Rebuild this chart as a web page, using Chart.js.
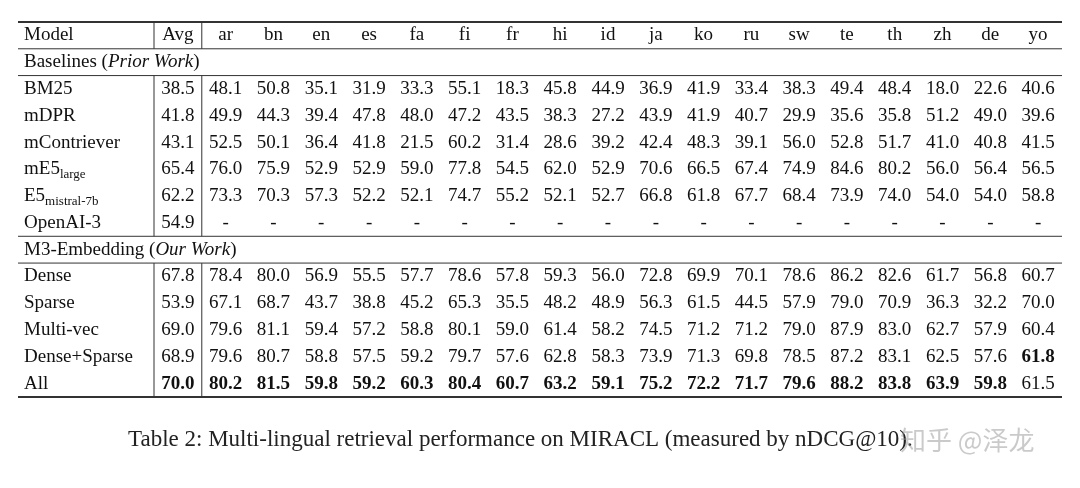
<!DOCTYPE html>
<html>
<head>
<meta charset="utf-8">
<script src="https://cdn.jsdelivr.net/npm/chart.js@4/dist/chart.umd.min.js"></script>
<style>
  html, body { margin: 0; padding: 0; background: #fff; }
  #wrap { width: 1080px; height: 488px; }
</style>
</head>
<body>
<div id="wrap"><canvas id="tbl"></canvas></div>
<script>
const columns = ['Avg', 'ar', 'bn', 'en', 'es', 'fa', 'fi', 'fr', 'hi', 'id', 'ja', 'ko', 'ru', 'sw', 'te', 'th', 'zh', 'de', 'yo'];

// [name, subscript]
const baselineModels = [['BM25', ''], ['mDPR', ''], ['mContriever', ''], ['mE5', 'large'], ['E5', 'mistral-7b'], ['OpenAI-3', '']];
const baselineValues = [
    [38.5, 48.1, 50.8, 35.1, 31.9, 33.3, 55.1, 18.3, 45.8, 44.9, 36.9, 41.9, 33.4, 38.3, 49.4, 48.4, 18.0, 22.6, 40.6],
    [41.8, 49.9, 44.3, 39.4, 47.8, 48.0, 47.2, 43.5, 38.3, 27.2, 43.9, 41.9, 40.7, 29.9, 35.6, 35.8, 51.2, 49.0, 39.6],
    [43.1, 52.5, 50.1, 36.4, 41.8, 21.5, 60.2, 31.4, 28.6, 39.2, 42.4, 48.3, 39.1, 56.0, 52.8, 51.7, 41.0, 40.8, 41.5],
    [65.4, 76.0, 75.9, 52.9, 52.9, 59.0, 77.8, 54.5, 62.0, 52.9, 70.6, 66.5, 67.4, 74.9, 84.6, 80.2, 56.0, 56.4, 56.5],
    [62.2, 73.3, 70.3, 57.3, 52.2, 52.1, 74.7, 55.2, 52.1, 52.7, 66.8, 61.8, 67.7, 68.4, 73.9, 74.0, 54.0, 54.0, 58.8],
    [54.9, null, null, null, null, null, null, null, null, null, null, null, null, null, null, null, null, null, null]
];

const oursModels = [['Dense', ''], ['Sparse', ''], ['Multi-vec', ''], ['Dense+Sparse', ''], ['All', '']];
const oursValues = [
    [67.8, 78.4, 80.0, 56.9, 55.5, 57.7, 78.6, 57.8, 59.3, 56.0, 72.8, 69.9, 70.1, 78.6, 86.2, 82.6, 61.7, 56.8, 60.7],
    [53.9, 67.1, 68.7, 43.7, 38.8, 45.2, 65.3, 35.5, 48.2, 48.9, 56.3, 61.5, 44.5, 57.9, 79.0, 70.9, 36.3, 32.2, 70.0],
    [69.0, 79.6, 81.1, 59.4, 57.2, 58.8, 80.1, 59.0, 61.4, 58.2, 74.5, 71.2, 71.2, 79.0, 87.9, 83.0, 62.7, 57.9, 60.4],
    [68.9, 79.6, 80.7, 58.8, 57.5, 59.2, 79.7, 57.6, 62.8, 58.3, 73.9, 71.3, 69.8, 78.5, 87.2, 83.1, 62.5, 57.6, 61.8],
    [70.0, 80.2, 81.5, 59.8, 59.2, 60.3, 80.4, 60.7, 63.2, 59.1, 75.2, 72.2, 71.7, 79.6, 88.2, 83.8, 63.9, 59.8, 61.5]
];

// which row of "ours" is bold in each column (as in the paper)
const boldRowPerCol = [4, 4, 4, 4, 4, 4, 4, 4, 4, 4, 4, 4, 4, 4, 4, 4, 4, 4, 3];

const caption = 'Table 2: Multi-lingual retrieval performance on MIRACL (measured by nDCG@10).';
const watermark = '知乎 @泽龙';

// rows: 0 header, 1 baselines label, 2-7 baselines, 8 ours label, 9-13 ours
const rows = [];
rows.push({ kind: 'header' });
rows.push({ kind: 'section', parts: [['Baselines (', false], ['Prior Work', true], [')', false]] });
baselineModels.forEach((m, i) => rows.push({ kind: 'data', model: m, values: baselineValues[i], ours: -1 }));
rows.push({ kind: 'section', parts: [['M3-Embedding (', false], ['Our Work', true], [')', false]] });
oursModels.forEach((m, i) => rows.push({ kind: 'data', model: m, values: oursValues[i], ours: i }));

const cells = [];
rows.forEach((r, ri) => {
    if (r.kind === 'header') {
        columns.forEach((c, j) => cells.push({ x: j, y: ri, text: c, bold: false }));
    } else if (r.kind === 'data') {
        r.values.forEach((v, j) => cells.push({
            x: j, y: ri,
            text: v === null ? '-' : v.toFixed(1),
            bold: r.ours === boldRowPerCol[j]
        }));
    }
});

const SERIF = '"Liberation Serif", "DejaVu Serif", serif';
const FS = 19;

const tablePlugin = {
    id: 'tablePlugin',
    afterDatasetsDraw(chart) {
        const { ctx, chartArea, scales: { x, y } } = chart;
        const modelLeft = 18;
        const right = chartArea.right;
        ctx.save();
        ctx.fillStyle = '#111';
        ctx.textBaseline = 'middle';

        const meta = chart.getDatasetMeta(0);
        meta.data.forEach((pt, i) => {
            const c = cells[i];
            ctx.font = (c.bold ? 'bold ' : '') + FS + 'px ' + SERIF;
            ctx.textAlign = 'center';
            ctx.fillText(c.text, pt.x, pt.y);
        });

        ctx.textAlign = 'left';
        rows.forEach((r, ri) => {
            const py = y.getPixelForValue(ri);
            let px = modelLeft + 6;
            if (r.kind === 'header') {
                ctx.font = FS + 'px ' + SERIF;
                ctx.fillText('Model', px, py);
            } else if (r.kind === 'section') {
                r.parts.forEach(([t, it]) => {
                    ctx.font = (it ? 'italic ' : '') + FS + 'px ' + SERIF;
                    ctx.fillText(t, px, py);
                    px += ctx.measureText(t).width;
                });
            } else {
                ctx.font = FS + 'px ' + SERIF;
                ctx.fillText(r.model[0], px, py);
                if (r.model[1]) {
                    px += ctx.measureText(r.model[0]).width;
                    ctx.font = '13px ' + SERIF;
                    ctx.fillText(r.model[1], px, py + 5);
                }
            }
        });

        const hline = (v, w) => {
            const py = y.getPixelForValue(v);
            ctx.strokeStyle = '#333';
            ctx.lineWidth = w;
            ctx.beginPath();
            ctx.moveTo(modelLeft, py);
            ctx.lineTo(right, py);
            ctx.stroke();
        };
        hline(-0.5, 2);
        hline(0.5, 1);
        hline(1.5, 1);
        hline(7.5, 1);
        hline(8.5, 1);
        hline(13.5, 2);

        const vline = (xv, y0, y1) => {
            const px = x.getPixelForValue(xv);
            ctx.strokeStyle = '#333';
            ctx.lineWidth = 1;
            ctx.beginPath();
            ctx.moveTo(px, y.getPixelForValue(y0));
            ctx.lineTo(px, y.getPixelForValue(y1));
            ctx.stroke();
        };
        [[-0.5, 0.5], [1.5, 7.5], [8.5, 13.5]].forEach(([a, b]) => {
            vline(-0.5, a, b);
            vline(0.5, a, b);
        });

        // caption and watermark
        ctx.textAlign = 'left';
        ctx.font = '23px ' + SERIF;
        ctx.fillStyle = '#222';
        ctx.fillText(caption, 128, 440);
        ctx.font = '26px "Noto Sans CJK SC"';
        ctx.fillStyle = 'rgba(150,150,150,0.5)';
        ctx.fillText(watermark, 900, 440);
        ctx.restore();
    }
};

new Chart(document.getElementById('tbl'), {
    type: 'scatter',
    data: {
        datasets: [{
            data: cells.map(c => ({ x: c.x, y: c.y })),
            pointRadius: 0,
            pointHoverRadius: 0
        }]
    },
    options: {
        responsive: true,
        maintainAspectRatio: false,
        animation: false,
        events: [],
        layout: { padding: { left: 154, right: 18, top: 22, bottom: 91 } },
        plugins: { legend: { display: false }, tooltip: { enabled: false } },
        scales: {
            x: { type: 'linear', min: -0.5, max: 18.5, display: false },
            y: { type: 'linear', min: -0.5, max: 13.5, reverse: true, display: false }
        }
    },
    plugins: [tablePlugin]
});
</script>
</body>
</html>
